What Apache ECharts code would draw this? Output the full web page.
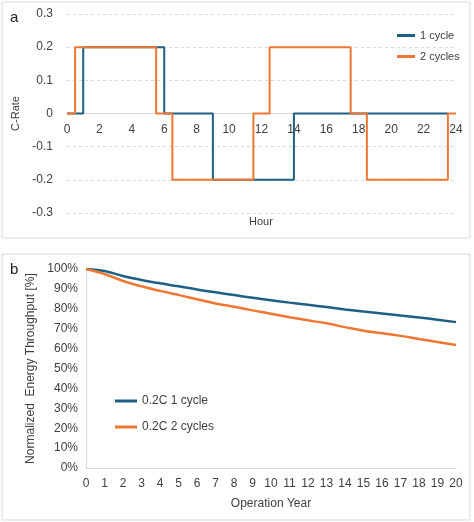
<!DOCTYPE html>
<html><head><meta charset="utf-8">
<script src="https://cdn.jsdelivr.net/npm/echarts@6/dist/echarts.min.js"></script>
<style>html,body{margin:0;padding:0;background:#fff}#c{width:474px;height:522px}</style>
</head><body><div id="c"></div>
<script>
const hourTicks = [0,2,4,6,8,10,12,14,16,18,20,22,24];
const oneCycleX = [0,1,6,9,14,23.5];
const oneCycleY = [0,0.2,0,-0.2,0,0];
const twoCycleX = [0,0.5,5.5,6.5,11.5,12.5,17.5,18.5,23.5,24];
const twoCycleY = [0,0.2,0,-0.2,0,0.2,0,-0.2,0,0];
const years = ['0','1','2','3','4','5','6','7','8','9','10','11','12','13','14','15','16','17','18','19','20'];
const oneCycleTp = [100,99,96.5,94.5,92.8,91.3,89.7,88.3,86.9,85.5,84.3,83.1,82,80.9,79.7,78.6,77.6,76.6,75.6,74.5,73.3];
const twoCycleTp = [100,97.5,94,91.3,89,87,84.8,82.7,81,79.2,77.5,75.8,74.2,72.7,70.8,69,67.7,66.4,64.8,63.3,61.8];
const blue='#1f5f84', orange='#ee7733', txt='#404040';
const f='Liberation Sans, Arial, sans-serif';
const pairs=(xs,ys)=>xs.map((x,i)=>[x,ys[i]]);
const chart=echarts.init(document.getElementById('c'));
chart.setOption({
  animation:false,
  textStyle:{fontFamily:f},
  graphic:[
    {type:'rect',shape:{x:2,y:2,width:468,height:236},style:{fill:'none',stroke:'#d9d9d9'}},
    {type:'rect',shape:{x:2,y:254,width:468,height:266},style:{fill:'none',stroke:'#d9d9d9'}},
    {type:'text',left:10,top:10,style:{text:'a',fontSize:15,fill:'#222',fontFamily:f}},
    {type:'text',left:10,top:262,style:{text:'b',fontSize:15,fill:'#222',fontFamily:f}},
    {type:'text',left:249,top:216,style:{text:'Hour',fontSize:11,fill:txt,fontFamily:f}}
  ],
  legend:[
    {data:['1 cycle','2 cycles'],orient:'vertical',left:392,top:25,itemWidth:18,itemHeight:3,itemGap:10,icon:'rect',textStyle:{fontSize:11,color:txt}},
    {data:['0.2C 1 cycle','0.2C 2 cycles'],orient:'vertical',left:110,top:390,itemWidth:22,itemHeight:3,itemGap:14,icon:'rect',textStyle:{fontSize:12,color:txt}}
  ],
  grid:[
    {left:67,right:18,top:14,height:199},
    {left:86,right:18,top:269,height:199}
  ],
  xAxis:[
    {gridIndex:0,type:'value',min:0,max:24,interval:2,offset:-99.5,
     axisLine:{onZero:false,lineStyle:{color:'#d9d9d9'}},axisTick:{show:false},
     axisLabel:{fontSize:12,color:txt,margin:10},splitLine:{show:false}},
    {gridIndex:1,type:'category',data:years,boundaryGap:false,name:'Operation Year',nameLocation:'middle',nameGap:30,
     nameTextStyle:{fontSize:12,color:txt},axisLine:{lineStyle:{color:'#d9d9d9'}},axisTick:{show:false},
     axisLabel:{fontSize:12,color:txt,margin:10,interval:0}}
  ],
  yAxis:[
    {gridIndex:0,type:'value',min:-0.3,max:0.3,interval:0.1,name:'C-Rate',nameLocation:'middle',nameGap:36,
     nameTextStyle:{fontSize:11,color:txt},axisLabel:{fontSize:12,color:txt,margin:14,formatter:v=>Math.abs(v)<1e-9?'0':v.toFixed(1)},
     axisLine:{show:false},axisTick:{show:false},splitLine:{lineStyle:{color:'#d9d9d9',type:[3,3]}}},
    {gridIndex:1,type:'value',min:0,max:100,interval:10,name:'Normalized  Energy Throughput [%]',nameLocation:'middle',nameGap:47,
     nameTextStyle:{fontSize:12,color:txt},axisLabel:{fontSize:12,color:txt,formatter:'{value}%'},
     axisLine:{show:true,lineStyle:{color:'#d9d9d9'}},axisTick:{show:false},splitLine:{show:false}}
  ],
  series:[
    {name:'1 cycle',type:'line',xAxisIndex:0,yAxisIndex:0,step:'end',data:pairs(oneCycleX,oneCycleY),symbol:'none',lineStyle:{color:blue,width:2},itemStyle:{color:blue},z:2},
    {name:'2 cycles',type:'line',xAxisIndex:0,yAxisIndex:0,step:'end',data:pairs(twoCycleX,twoCycleY),symbol:'none',lineStyle:{color:orange,width:2},itemStyle:{color:orange},z:3},
    {name:'0.2C 1 cycle',type:'line',xAxisIndex:1,yAxisIndex:1,data:oneCycleTp,smooth:true,symbol:'none',lineStyle:{color:blue,width:2.5},itemStyle:{color:blue}},
    {name:'0.2C 2 cycles',type:'line',xAxisIndex:1,yAxisIndex:1,data:twoCycleTp,smooth:true,symbol:'none',lineStyle:{color:orange,width:2.5},itemStyle:{color:orange}}
  ]
});
</script></body></html>
